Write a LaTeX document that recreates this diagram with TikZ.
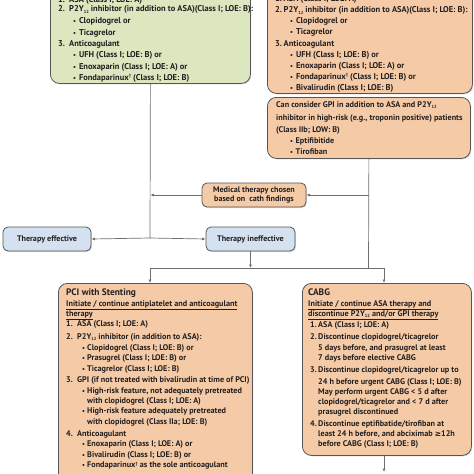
\documentclass[tikz,border=0pt]{standalone}
\usepackage{fontspec}
\setmainfont{PT Sans}
\newfontfamily\dvs{DejaVu Sans}
\usetikzlibrary{arrows.meta,shadows}
\definecolor{gfill}{HTML}{DCE7C0}
\definecolor{ofill}{HTML}{F5CBA7}
\definecolor{bfill}{HTML}{D3E1F0}
\definecolor{edgec}{HTML}{555555}
\definecolor{ink}{HTML}{231F20}
\definecolor{wire}{HTML}{6E6E6E}
\newcounter{tln}
\newcommand{\tl}[3]{\stepcounter{tln}\node[txt] (t\arabic{tln}) at (#1,#2) {#3};}
\newcommand{\tb}[3]{\stepcounter{tln}\node[txtbig] (t\arabic{tln}) at (#1,#2) {#3};}
\newcommand{\ptwo}{P2Y\raisebox{-1.4pt}{\fontsize{4.4}{4}\selectfont 12}}
\newcommand{\bul}{{\fontsize{6.5}{6}\selectfont\textbullet}}
\newcommand{\mydag}{\raisebox{2.6pt}{\fontsize{4.6}{4}\selectfont †}}
\begin{document}
\begin{tikzpicture}[x=1pt,y=-1pt,
  box/.style={draw=edgec, line width=0.8pt, rounded corners=9pt, inner sep=0pt,
    drop shadow={opacity=0.3, shadow xshift=0.8pt, shadow yshift=-1pt}},
  sbox/.style={draw=edgec, line width=0.8pt, rounded corners=5pt, inner sep=0pt, align=center,
    text=ink, font=\fontsize{8.1}{9.8}\selectfont\bfseries,
    drop shadow={opacity=0.3, shadow xshift=0.8pt, shadow yshift=-1pt}},
  txt/.style={anchor=base west, inner sep=0pt, text=ink, font=\fontsize{8.2}{9}\selectfont\bfseries},
  txtbig/.style={txt, font=\fontsize{8.45}{10}\selectfont\bfseries},
  wireline/.style={draw=wire, line width=0.7pt},
  arr/.style={wireline, -{Latex[length=3.5pt,width=3pt]}}]
\useasboundingbox (0,0) rectangle (474,474);
\clip (0,0) rectangle (474,474);
% boxes
\node[box, fill=gfill, minimum width=200pt, minimum height=103pt, anchor=north west] (green) at (50,-20) {};
\node[box, fill=ofill, minimum width=205pt, minimum height=113pt, anchor=north west] (oright) at (267,-20) {};
\node[box, fill=ofill, minimum width=203pt, minimum height=61pt, anchor=north west] (gpi) at (267,97) {};
\node[sbox, fill=ofill, minimum width=104pt, minimum height=24pt] (med) at (254,195) {Medical therapy chosen\\based on\ \ cath findings};
\node[sbox, fill=bfill, minimum width=88pt, minimum height=24pt] (eff) at (47,239) {Therapy effective};
\node[sbox, fill=bfill, minimum width=89pt, minimum height=24pt] (ineff) at (250.5,239) {Therapy ineffective};
\node[box, fill=ofill, minimum width=194pt, minimum height=220pt, anchor=north west] (pci) at (58,283) {};
\node[box, fill=ofill, minimum width=169pt, minimum height=172pt, anchor=north west] (cabg) at (302,283) {};
% connectors
\coordinate (j1) at (150,238);
\coordinate (hl) at (150,268);
\coordinate (hr) at (384,268);
\coordinate (hm) at (368.5,268);
\coordinate (endc) at (384,472);
\draw[wireline] (green.south) -- (j1);
\draw[arr] (j1) -- (eff.east);
\draw[arr] (j1) -- (ineff.west);
\draw[arr] (med.west) -- (green.south |- med.west);
\draw[wireline] (gpi.south) -- (hm);
\draw[arr] (gpi.south |- med.east) -- (med.east);
\draw[arr] (ineff.south) -- (ineff.south |- hl);
\draw[wireline] (hl) -- (hr);
\draw[arr] (hl) -- (hl |- pci.north);
\draw[arr] (hr) -- (hr |- cabg.north);
\draw[arr] (hr |- cabg.south) -- (endc);
% green box text
\tb{58}{2.5}{1.}\tb{69}{2.5}{ASA (Class I; LOE: A)}
\tb{58}{11.8}{2.}\tb{69}{11.8}{\ptwo\ inhibitor (in addition to ASA)(Class I; LOE: B):}
\tb{73}{23.5}{\bul}\tb{78.8}{23.5}{Clopidogrel or}
\tb{73}{35}{\bul}\tb{78.8}{35}{Ticagrelor}
\tb{58}{46.5}{3.}\tb{69}{46.5}{Anticoagulant}
\tb{73}{57.8}{\bul}\tb{78.8}{57.8}{UFH (Class I; LOE: B) or}
\tb{73}{69}{\bul}\tb{78.8}{69}{Enoxaparin (Class I; LOE: A) or}
\tb{73}{80.3}{\bul}\tb{78.8}{80.3}{Fondaparinux\mydag\ (Class I; LOE: B)}
% right top box text
\tb{275}{1.8}{1.}\tb{283.5}{1.8}{ASA (Class I; LOE: A)}
\tb{275}{12.8}{2.}\tb{283.5}{12.8}{\ptwo\ inhibitor (in addition to ASA)(Class I; LOE: B):}
\tb{290}{23.9}{\bul}\tb{295.8}{23.9}{Clopidogrel or}
\tb{290}{34.9}{\bul}\tb{295.8}{34.9}{Ticagrelor}
\tb{275}{46}{3.}\tb{283.5}{46}{Anticoagulant}
\tb{290}{57}{\bul}\tb{295.8}{57}{UFH (Class I; LOE: B) or}
\tb{290}{68.1}{\bul}\tb{295.8}{68.1}{Enoxaparin (Class I; LOE: A) or}
\tb{290}{79.1}{\bul}\tb{295.8}{79.1}{Fondaparinux\mydag\ (Class I; LOE: B) or}
\tb{290}{90.2}{\bul}\tb{295.8}{90.2}{Bivalirudin (Class I; LOE: B)}
% GPI box text
\tl{276}{107.5}{Can consider GPI in addition to ASA and \ptwo}
\tl{276}{120.5}{inhibitor in high-risk (e.g., troponin positive) patients}
\tl{276}{132.5}{(Class IIb; LOW: B)}
\tl{290}{143.5}{\bul}\tl{295.5}{143.5}{Eptifibitide}
\tl{290}{154.5}{\bul}\tl{295.5}{154.5}{Tirofiban}
% PCI box text
\tl{66}{295}{\fontsize{9.4}{10}\selectfont PCI with Stenting}
\tl{66}{306}{\underline{Initiate / continue antiplatelet and anticoagulant}}
\tl{66}{316}{\underline{therapy}}
\tl{66}{326.8}{1.}\tl{77}{326.8}{ASA (Class I; LOE: A)}
\tl{66}{339.5}{2.}\tl{77}{339.5}{\ptwo\ inhibitor (in addition to ASA):}
\tl{82}{350}{\bul}\tl{87}{350}{Clopidogrel (Class I; LOE: B) or}
\tl{82}{360.5}{\bul}\tl{87}{360.5}{Prasugrel (Class I; LOE: B) or}
\tl{82}{371}{\bul}\tl{87}{371}{Ticagrelor (Class I; LOE: B)}
\tl{66}{382.8}{3.}\tl{77}{382.8}{GPI (if not treated with bivalirudin at time of PCI)}
\tl{82}{393.5}{\bul}\tl{87}{393.5}{High-risk feature, not adequately pretreated}
\tl{87}{403.5}{with clopidogrel (Class I; LOE: A)}
\tl{82}{413.8}{\bul}\tl{87}{413.8}{High-risk feature adequately pretreated}
\tl{87}{424.5}{with clopidogrel (Class IIa; LOE: B)}
\tl{66}{436.8}{4.}\tl{77}{436.8}{Anticoagulant}
\tl{82}{446.8}{\bul}\tl{87}{446.8}{Enoxaparin (Class I; LOE: A) or}
\tl{82}{457}{\bul}\tl{87}{457}{Bivalirudin (Class I; LOE: B) or}
\tl{82}{467.8}{\bul}\tl{87}{467.8}{Fondaparinux\mydag\ as the sole anticoagulant}
\tl{87}{480.5}{(Class III: Harm; LOE: B)}
% CABG box text
\tl{308}{295}{\fontsize{9.4}{10}\selectfont CABG}
\tl{308}{306}{\underline{Initiate / continue ASA therapy and}}
\tl{308}{316}{\underline{discontinue \ptwo\ and/or GPI therapy}}
\tl{310}{327.5}{1.}\tl{318}{327.5}{ASA (Class I; LOE: A)}
\tl{310}{339.5}{2.}\tl{318}{339.5}{Discontinue clopidogrel/ticagrelor}
\tl{318}{350}{5 days before, and prasugrel at least}
\tl{318}{360.5}{7 days before elective CABG}
\tl{310}{372.5}{3.}\tl{318}{372.5}{Discontinue clopidogrel/ticagrelor up to}
\tl{318}{384}{24 h before urgent CABG (Class I; LOE: B)}
\tl{318}{394.5}{May perform urgent CABG < 5 d after}
\tl{318}{404.5}{clopidogrel/ticagrelor and < 7 d after}
\tl{318}{414.5}{prasugrel discontinued}
\tl{310}{426}{4.}\tl{318}{426}{Discontinue eptifibatide/tirofiban at}
\tl{318}{436}{least 24 h before, and abciximab {\dvs\bfseries\fontsize{7.6}{8}\selectfont ≥}12h}
\tl{318}{446}{before CABG (Class I; LOE: B)}
\end{tikzpicture}
\end{document}
